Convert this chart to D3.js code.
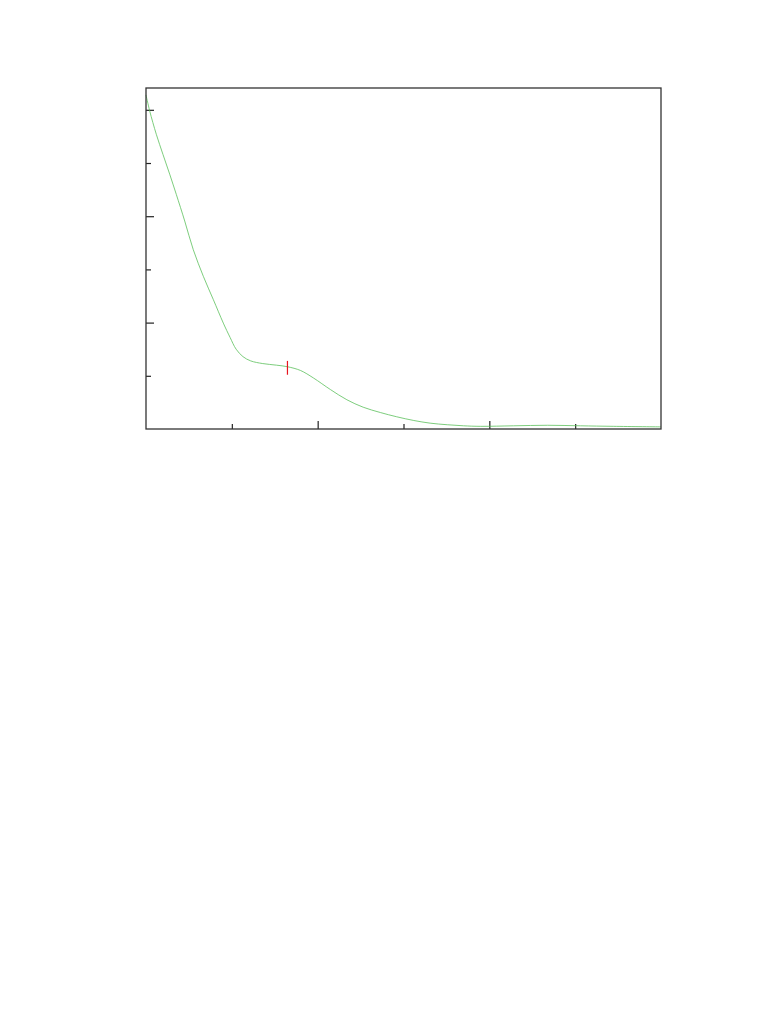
<!DOCTYPE html>
<html>
<head>
<meta charset="utf-8">
<script src="https://cdn.jsdelivr.net/npm/d3@7"></script>
<style>
  body { margin: 0; background: #fff; }
</style>
</head>
<body>
<svg id="chart"></svg>
<script>
const xValues = [0, 0.043, 0.12, 0.198, 0.276, 0.353, 0.451, 0.551, 0.668, 0.785, 0.901, 0.98, 1.05, 1.13, 1.22, 1.36, 1.52, 1.65, 1.8, 1.95, 2.15, 2.34, 2.53, 2.73, 2.92, 3.12, 3.31, 3.51, 3.7, 3.9, 4.28, 4.68, 5.06, 5.45, 6.0];
const yValues = [6.28, 5.98, 5.54, 5.16, 4.79, 4.41, 3.91, 3.37, 2.87, 2.43, 1.99, 1.72, 1.5, 1.36, 1.28, 1.23, 1.2, 1.17, 1.1, 0.96, 0.74, 0.55, 0.41, 0.31, 0.23, 0.16, 0.11, 0.08, 0.06, 0.05, 0.06, 0.07, 0.06, 0.05, 0.04];

const errX = [1.648];
const errLow = [1.02];
const errHigh = [1.28];

const xMajorTicks = [2, 4];
const xMinorTicks = [1, 3, 5];
const yMajorTicks = [2, 4, 6];
const yMinorTicks = [1, 3, 5];

const width = 768, height = 1024;
const margin = { left: 146, top: 88 };
const chartWidth = 515;
const chartHeight = 341;

const svg = d3.select('#chart')
  .attr('width', width)
  .attr('height', height);

const chart = svg.append('g')
  .attr('transform', `translate(${margin.left}, ${margin.top})`);

const xScale = d3.scaleLinear().domain([0, 6]).range([0, chartWidth]);
const yScale = d3.scaleLinear().domain([0, 6.41]).range([chartHeight, 0]);

// ticks point inward, no labels
const addAxis = (axis, transform) => {
  const g = chart.append('g').attr('transform', transform).call(axis);
  g.select('.domain').remove();
  g.selectAll('line').attr('stroke', '#222').attr('stroke-width', 1.2);
};

addAxis(d3.axisBottom(xScale).tickValues(xMajorTicks).tickSize(-8).tickFormat(''), `translate(0, ${chartHeight})`);
addAxis(d3.axisBottom(xScale).tickValues(xMinorTicks).tickSize(-5).tickFormat(''), `translate(0, ${chartHeight})`);
addAxis(d3.axisLeft(yScale).tickValues(yMajorTicks).tickSize(-8).tickFormat(''), 'translate(0, 0)');
addAxis(d3.axisLeft(yScale).tickValues(yMinorTicks).tickSize(-5).tickFormat(''), 'translate(0, 0)');

const line = d3.line()
  .x((d, i) => xScale(xValues[i]))
  .y((d) => yScale(d))
  .curve(d3.curveCatmullRom.alpha(0.5));

chart.append('path')
  .datum(yValues)
  .attr('fill', 'none')
  .attr('stroke', '#5cc05c')
  .attr('stroke-opacity', 0.8)
  .attr('stroke-width', 1)
  .attr('d', line);

chart.selectAll('.err')
  .data(errX)
  .enter()
  .append('line')
  .attr('class', 'err')
  .attr('x1', (d) => xScale(d))
  .attr('x2', (d) => xScale(d))
  .attr('y1', (d, i) => yScale(errLow[i]))
  .attr('y2', (d, i) => yScale(errHigh[i]))
  .attr('stroke', '#e8141e')
  .attr('stroke-width', 1.2);

// frame
chart.append('rect')
  .attr('x', 0)
  .attr('y', 0)
  .attr('width', chartWidth)
  .attr('height', chartHeight)
  .attr('fill', 'none')
  .attr('stroke', '#333')
  .attr('stroke-width', 1.3);
</script>
</body>
</html>
